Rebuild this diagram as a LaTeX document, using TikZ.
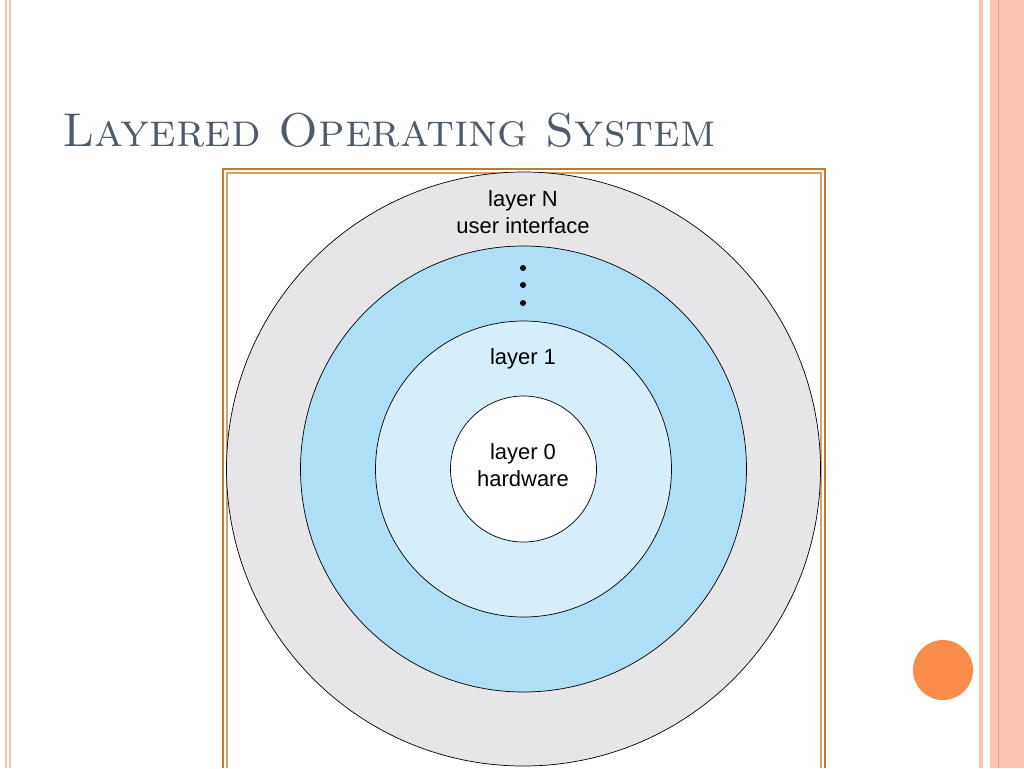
\documentclass[tikz,border=0pt]{standalone}
\usepackage{fontspec}
\setsansfont{Liberation Sans}
\definecolor{salmon}{HTML}{FBC4B0}
\definecolor{rim}{HTML}{E89A7E}
\definecolor{titlegray}{HTML}{4F5A6A}
\definecolor{framebrown}{HTML}{C27A2E}
\definecolor{ringgray}{HTML}{E6E6E8}
\definecolor{ringblue}{HTML}{AEDFF7}
\definecolor{ringpale}{HTML}{D6EEFA}
\definecolor{dotorange}{HTML}{FB8C4C}
\tikzset{
  ring/.style={draw=black, line width=0.4pt},
  lbl/.style={font=\sffamily\fontsize{12.5}{15}\selectfont, align=center, inner sep=0pt},
  dot/.style={circle, fill=black, minimum size=0.12cm, inner sep=0pt}
}
\begin{document}
\begin{tikzpicture}[x=0.02cm, y=-0.02cm]
  \useasboundingbox (0,0) rectangle (1024,768);
  % page border
  \fill[salmon] (5,0) rectangle (7,768);
  \fill[salmon] (9,0) rectangle (11,768);
  \fill[salmon] (979,0) rectangle (983,768);
  \fill[salmon] (990,0) rectangle (1024,768);
  \draw[rim, line width=0.5pt] (998,0) -- (998,768);
  \draw[rim!60, line width=0.3pt] (1007,0) -- (1007,768);
  % title
  \node (title) [anchor=base west, inner sep=0pt, text=titlegray,
    font=\fontsize{27}{32}\selectfont] at (62,146) {\textsc{Layered Operating System}};
  % frame
  \draw[framebrown, line width=1.2pt] (223,768) -- (223,169) -- (825,169) -- (825,768);
  \draw[framebrown!70, line width=0.6pt] (227,768) -- (227,173) -- (821,173) -- (821,768);
  % rings
  \coordinate (c) at (523.5,469);
  \draw[ring, fill=ringgray] (c) circle [radius=297];
  \draw[ring, fill=ringblue] (c) circle [radius=223];
  \draw[ring, fill=ringpale] (c) circle [radius=148];
  \draw[ring, fill=white] (c) circle [radius=73];
  % labels
  \node (layerN) [lbl] at (523,212) {layer N\\user interface};
  \node (d1) [dot] at (523,268) {};
  \node (d2) [dot] at (523,285) {};
  \node (d3) [dot] at (523,303) {};
  \node (layer1) [lbl] at (523,359) {layer 1};
  \node (layer0) [lbl] at (523,465) {layer 0\\hardware};
  % orange dot
  \fill[dotorange] (943,670) circle [radius=30];
\end{tikzpicture}
\end{document}
